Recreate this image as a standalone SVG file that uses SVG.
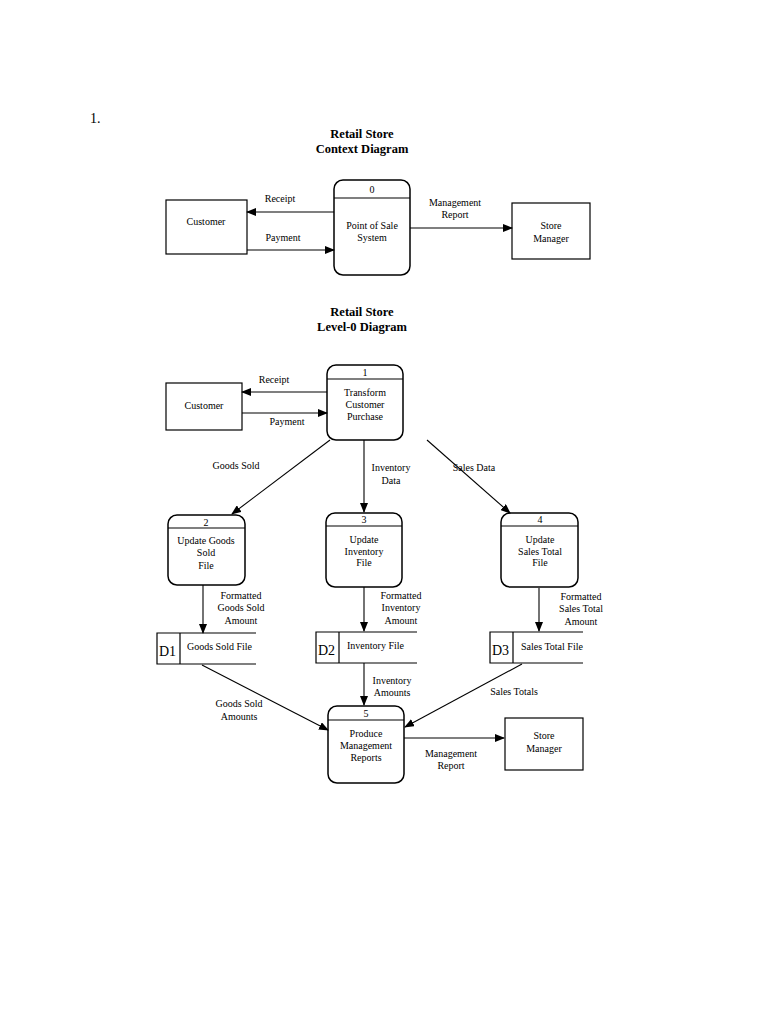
<svg xmlns="http://www.w3.org/2000/svg" width="768" height="1024" viewBox="0 0 768 1024">
<style>
text{font-family:"Liberation Serif",serif;font-size:10px;fill:#000}
.t{font-size:12.5px;font-weight:bold}
.n{font-size:14px}
.b{fill:#fff;stroke:#000;stroke-width:1.2}
.p{fill:#fff;stroke:#000;stroke-width:1.5}
.l{stroke:#000;stroke-width:1.2;fill:none}
.c line{stroke:#000;stroke-width:1.1;marker-end:url(#a)}
</style>
<defs><marker id="a" markerWidth="10" markerHeight="8" refX="9" refY="4" orient="auto" markerUnits="userSpaceOnUse"><path d="M0,0L10,4L0,8z"/></marker></defs>
<rect width="768" height="1024" fill="#fff"/>
<text x="90" y="123" style="font-size:14px">1.</text>
<text class="t" x="362" y="138" text-anchor="middle">Retail Store</text>
<text class="t" x="362" y="153" text-anchor="middle">Context Diagram</text>
<g id="c_customer"><rect class="b" x="166" y="200" width="81" height="54"/><text x="206" y="225" text-anchor="middle">Customer</text></g>
<g id="c_p0"><rect class="p" x="334" y="180" width="76" height="95" rx="9"/><line class="l" x1="334" y1="198" x2="410" y2="198"/><text x="372" y="193" text-anchor="middle">0</text><text x="372" y="229" text-anchor="middle">Point of Sale</text><text x="372" y="241" text-anchor="middle">System</text></g>
<g id="c_mgr"><rect class="b" x="512" y="203" width="78" height="56"/><text x="551" y="229" text-anchor="middle">Store</text><text x="551" y="242" text-anchor="middle">Manager</text></g>
<text class="t" x="362" y="316" text-anchor="middle">Retail Store</text>
<text class="t" x="362" y="331" text-anchor="middle">Level-0 Diagram</text>
<g id="customer"><rect class="b" x="166" y="383" width="76" height="47"/><text x="204" y="409" text-anchor="middle">Customer</text></g>
<g id="p1"><rect class="p" x="327" y="365" width="76" height="75" rx="9"/><line class="l" x1="327" y1="379" x2="403" y2="379"/><text x="365" y="376" text-anchor="middle">1</text><text x="365" y="396" text-anchor="middle">Transform</text><text x="365" y="408" text-anchor="middle">Customer</text><text x="365" y="420" text-anchor="middle">Purchase</text></g>
<g id="p2"><rect class="p" x="168" y="515" width="77" height="70" rx="9"/><line class="l" x1="168" y1="528" x2="245" y2="528"/><text x="206" y="526" text-anchor="middle">2</text><text x="206" y="544" text-anchor="middle">Update Goods</text><text x="206" y="556" text-anchor="middle">Sold</text><text x="206" y="569" text-anchor="middle">File</text></g>
<g id="p3"><rect class="p" x="326" y="513" width="76" height="74" rx="9"/><line class="l" x1="326" y1="526" x2="402" y2="526"/><text x="364" y="523" text-anchor="middle">3</text><text x="364" y="543" text-anchor="middle">Update</text><text x="364" y="555" text-anchor="middle">Inventory</text><text x="364" y="566" text-anchor="middle">File</text></g>
<g id="p4"><rect class="p" x="501" y="513" width="77" height="74" rx="9"/><line class="l" x1="501" y1="526" x2="578" y2="526"/><text x="540" y="523" text-anchor="middle">4</text><text x="540" y="543" text-anchor="middle">Update</text><text x="540" y="555" text-anchor="middle">Sales Total</text><text x="540" y="566" text-anchor="middle">File</text></g>
<g id="d1"><path class="l" d="M256,633H157V664H256M180,633V664"/><text x="159" y="656" class="n">D1</text><text x="187" y="650">Goods Sold File</text></g>
<g id="d2"><path class="l" d="M417,632H316V663H417M339,632V663"/><text x="318" y="655" class="n">D2</text><text x="347" y="649">Inventory File</text></g>
<g id="d3"><path class="l" d="M583,632H490V663H583M513,632V663"/><text x="492" y="655" class="n">D3</text><text x="521" y="650">Sales Total File</text></g>
<g id="p5"><rect class="p" x="328" y="706" width="76" height="77" rx="9"/><line class="l" x1="328" y1="720" x2="404" y2="720"/><text x="366" y="717" text-anchor="middle">5</text><text x="366" y="737" text-anchor="middle">Produce</text><text x="366" y="749" text-anchor="middle">Management</text><text x="366" y="761" text-anchor="middle">Reports</text></g>
<g id="mgr"><rect class="b" x="505" y="718" width="78" height="52"/><text x="544" y="739" text-anchor="middle">Store</text><text x="544" y="752" text-anchor="middle">Manager</text></g>
<g class="c" id="connectors">
<line x1="334" y1="212" x2="247" y2="212"/><line x1="247" y1="250" x2="334" y2="250"/><line x1="410" y1="228" x2="512" y2="228"/>
<line x1="327" y1="392" x2="242" y2="392"/><line x1="242" y1="413" x2="327" y2="413"/>
<line x1="330" y1="440" x2="232" y2="514"/><line x1="364" y1="440" x2="364" y2="512"/><line x1="427" y1="440" x2="510" y2="513"/>
<line x1="203" y1="585" x2="203" y2="633"/><line x1="364" y1="587" x2="364" y2="631"/><line x1="539" y1="588" x2="539" y2="631"/>
<line x1="202" y1="665" x2="328" y2="730"/><line x1="364" y1="663" x2="364" y2="705"/><line x1="522" y1="664" x2="405" y2="727"/>
<line x1="404" y1="738" x2="504" y2="738"/>
</g>
<g id="labels">
<text x="280" y="202" text-anchor="middle">Receipt</text><text x="283" y="241" text-anchor="middle">Payment</text>
<text x="455" y="206" text-anchor="middle">Management</text><text x="455" y="218" text-anchor="middle">Report</text>
<text x="274" y="383" text-anchor="middle">Receipt</text><text x="287" y="425" text-anchor="middle">Payment</text>
<text x="236" y="469" text-anchor="middle">Goods Sold</text>
<text x="391" y="471" text-anchor="middle">Inventory</text><text x="391" y="484" text-anchor="middle">Data</text>
<text x="474" y="471" text-anchor="middle">Sales Data</text>
<text x="241" y="599" text-anchor="middle">Formatted</text><text x="241" y="611" text-anchor="middle">Goods Sold</text><text x="241" y="624" text-anchor="middle">Amount</text>
<text x="401" y="599" text-anchor="middle">Formatted</text><text x="401" y="611" text-anchor="middle">Inventory</text><text x="401" y="624" text-anchor="middle">Amount</text>
<text x="581" y="600" text-anchor="middle">Formatted</text><text x="581" y="612" text-anchor="middle">Sales Total</text><text x="581" y="625" text-anchor="middle">Amount</text>
<text x="392" y="684" text-anchor="middle">Inventory</text><text x="392" y="696" text-anchor="middle">Amounts</text>
<text x="239" y="707" text-anchor="middle">Goods Sold</text><text x="239" y="720" text-anchor="middle">Amounts</text>
<text x="514" y="695" text-anchor="middle">Sales Totals</text>
<text x="451" y="757" text-anchor="middle">Management</text><text x="451" y="769" text-anchor="middle">Report</text>
</g>
</svg>
